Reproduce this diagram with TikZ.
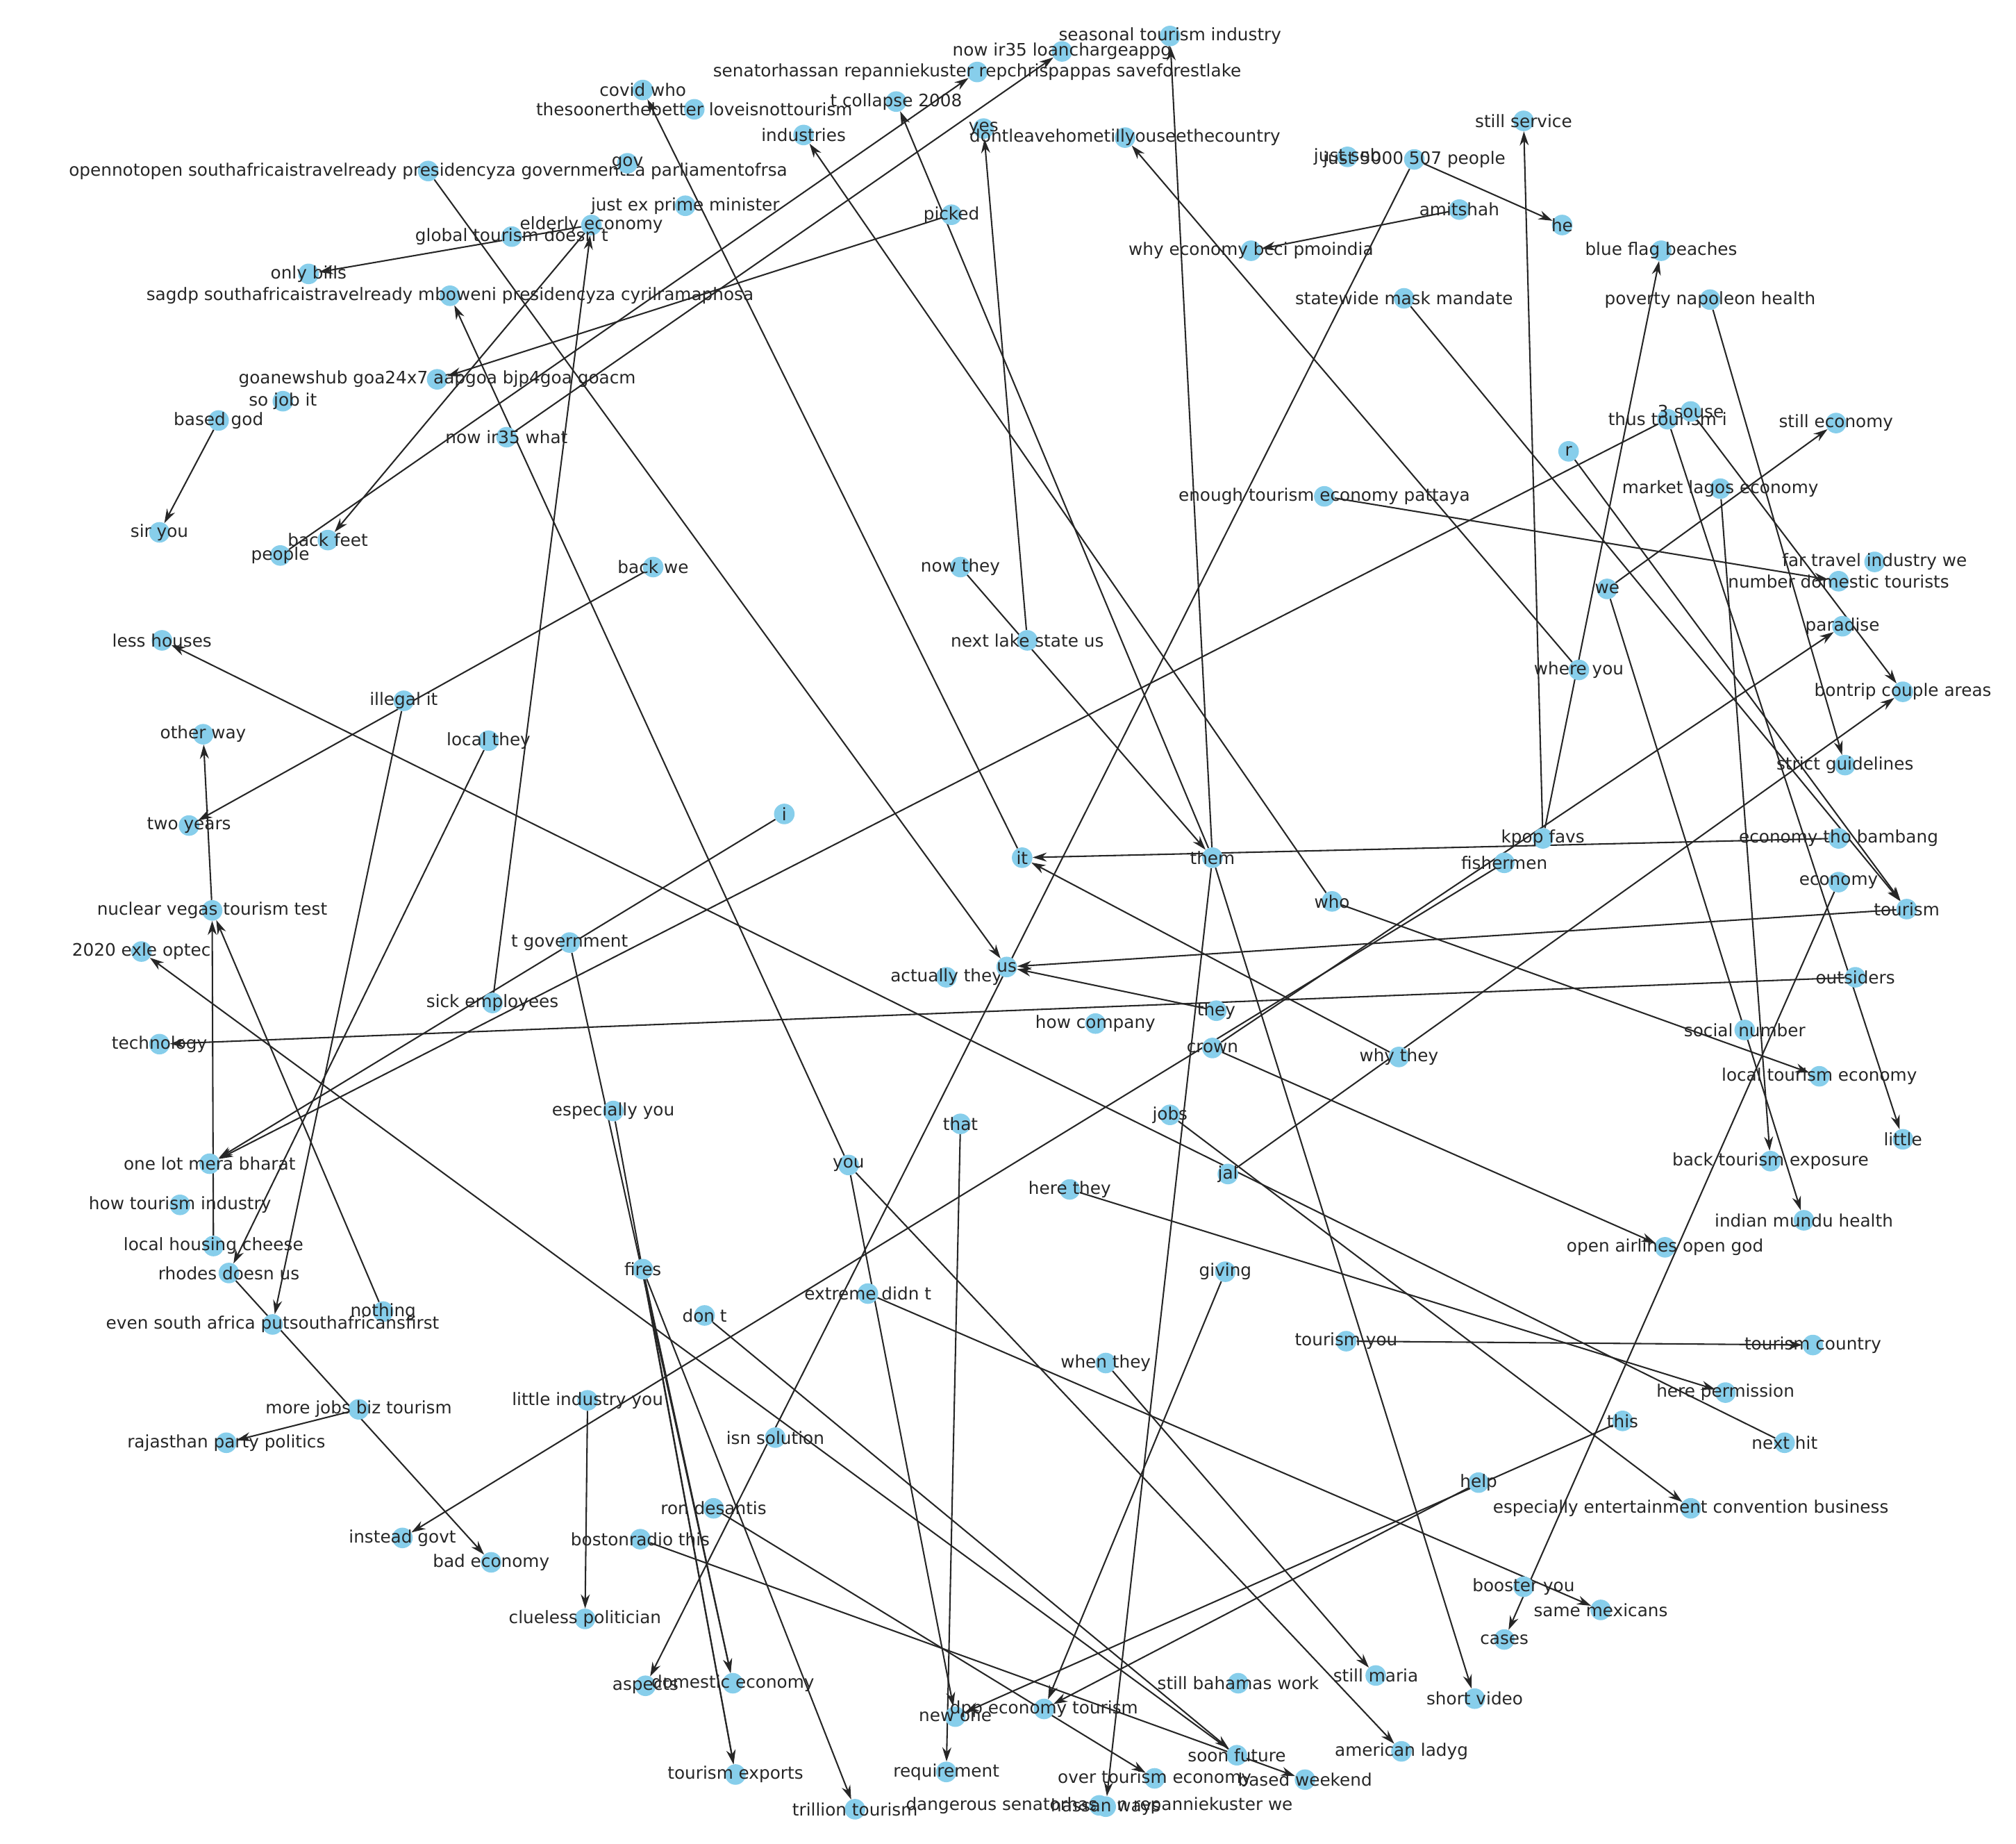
\documentclass[tikz,border=0pt]{standalone}
\usepackage{fontspec}
\setmainfont{DejaVu Sans}
\usetikzlibrary{arrows.meta,backgrounds}
\definecolor{sky}{RGB}{135,206,235}
\tikzset{dot/.style={circle,fill=sky,inner sep=0pt,minimum size=0.8cm},
lbl/.style={font=\fontsize{19}{19}\selectfont,inner sep=0pt,text=black!85},
e/.style={draw=black!85,line width=1.6pt,-{Stealth[length=0.55cm,width=0.35cm]}}}
\newcommand\nn[4]{\node[dot] (#1) at (#2*0.05,-#3*0.05) {}; \node[lbl] at (#1) {#4};}
\begin{document}
\begin{tikzpicture}
\useasboundingbox (0,0) rectangle (1568*0.05,-1434*0.05);
\nn{seas}{910}{28}{seasonal tourism industry}
\nn{loan}{826}{40}{now ir35 loanchargeappg}
\nn{sen}{760}{56}{senatorhassan repanniekuster repchrispappas saveforestlake}
\nn{covid}{500}{70}{covid  who}
\nn{soon}{540}{85}{thesoonerthebetter loveisnottourism}
\nn{tcol}{697}{79}{t collapse 2008}
\nn{yes}{765}{100}{yes}
\nn{dont}{875}{107}{dontleavehometillyouseethecountry}
\nn{ind}{625}{105}{industries}
\nn{open}{333}{133}{opennotopen southafricaistravelready presidencyza governmentza parliamentofrsa}
\nn{gov}{488}{127}{gov}
\nn{just}{533}{160}{just ex prime minister}
\nn{eld}{460}{175}{elderly  economy}
\nn{glob}{398}{184}{global tourism doesn t}
\nn{pick}{740}{167}{picked}
\nn{only}{240}{213}{only  bills}
\nn{sagdp}{350}{230}{sagdp southafricaistravelready mboweni presidencyza cyrilramaphosa}
\nn{goa}{340}{295}{goanewshub goa24x7 aapgoa bjp4goa goacm}
\nn{sojob}{220}{312}{so job it}
\nn{based}{170}{327}{based  god}
\nn{irw}{394}{340}{now ir35  what}
\nn{sir}{124}{414}{sir  you}
\nn{bfeet}{255}{420}{back  feet}
\nn{people}{218}{432}{people}
\nn{bwe}{508}{441}{back  we}
\nn{nowthey}{747}{441}{now  they}
\nn{lake}{799}{498}{next lake state us}
\nn{less}{126}{498}{less  houses}
\nn{ill}{314}{545}{illegal  it}
\nn{localthey}{380}{576}{local  they}
\nn{other}{158}{571}{other  way}
\nn{two}{147}{642}{two  years}
\nn{i}{610}{633}{i}
\nn{it}{795}{667}{it}
\nn{them}{943}{667}{them}
\nn{nuc}{165}{708}{nuclear vegas tourism test}
\nn{exle}{110}{740}{2020 exle optec}
\nn{tgov}{443}{733}{t government}
\nn{sick}{383}{780}{sick  employees}
\nn{act}{736}{760}{actually  they}
\nn{us}{783}{752}{us}
\nn{they}{946}{786}{they}
\nn{how}{852}{796}{how  company}
\nn{crown}{943}{815}{crown}
\nn{tech}{124}{812}{technology}
\nn{who}{1036}{701}{who}
\nn{why}{1088}{822}{why  they}
\nn{espy}{477}{864}{especially  you}
\nn{that}{747}{874}{that}
\nn{jobs}{910}{867}{jobs}
\nn{you}{660}{906}{you}
\nn{mera}{163}{905}{one lot mera bharat}
\nn{jal}{955}{913}{jal}
\nn{here}{832}{925}{here  they}
\nn{htour}{140}{937}{how tourism industry}
\nn{lhc}{166}{969}{local housing cheese}
\nn{rhodes}{178}{990}{rhodes doesn us}
\nn{fires}{500}{987}{fires}
\nn{giving}{953}{989}{giving}
\nn{nothing}{298}{1020}{nothing}
\nn{even}{212}{1030}{even south africa putsouthafricansfirst}
\nn{ext}{675}{1006}{extreme didn t}
\nn{dont2}{548}{1023}{don t}
\nn{when}{860}{1060}{when  they}
\nn{tyou}{1047}{1043}{tourism  you}
\nn{more}{279}{1096}{more jobs biz tourism}
\nn{little}{457}{1089}{little industry you}
\nn{raj}{176}{1122}{rajasthan party politics}
\nn{isn}{603}{1118}{isn  solution}
\nn{ron}{555}{1173}{ron desantis}
\nn{instead}{313}{1196}{instead  govt}
\nn{boston}{498}{1197}{bostonradio  this}
\nn{bad}{382}{1215}{bad  economy}
\nn{clue}{455}{1259}{clueless  politician}
\nn{asp}{502}{1311}{aspects}
\nn{dom}{570}{1309}{domestic  economy}
\nn{newone}{743}{1335}{new one}
\nn{dpp}{812}{1329}{dpp economy tourism}
\nn{texp}{572}{1380}{tourism exports}
\nn{req}{736}{1378}{requirement}
\nn{tril}{665}{1407}{trillion tourism}
\nn{dang}{855}{1404}{dangerous senatorhassan repanniekuster we}
\nn{over}{898}{1383}{over tourism economy}
\nn{sfut}{962}{1365}{soon  future}
\nn{bweek}{1015}{1384}{based  weekend}
\nn{amer}{1090}{1362}{american  ladyg}
\nn{bah}{963}{1309}{still bahamas work}
\nn{maria}{1070}{1303}{still  maria}
\nn{short}{1147}{1321}{short  video}
\nn{hassan}{860}{1405}{hassan ways}
\nn{cases}{1170}{1275}{cases}
\nn{boost}{1185}{1234}{booster you}
\nn{same}{1245}{1252}{same  mexicans}
\nn{help}{1150}{1153}{help}
\nn{espe}{1315}{1173}{especially entertainment convention business}
\nn{this}{1262}{1105}{this}
\nn{nhit}{1388}{1122}{next  hit}
\nn{perm}{1342}{1083}{here  permission}
\nn{tcoun}{1410}{1046}{tourism  country}
\nn{air}{1295}{970}{open airlines open god}
\nn{indian}{1403}{949}{indian mundu health}
\nn{bte}{1377}{903}{back tourism exposure}
\nn{lit}{1480}{886}{little}
\nn{lte}{1415}{837}{local tourism economy}
\nn{social}{1357}{801}{social  number}
\nn{outs}{1443}{760}{outsiders}
\nn{tour}{1483}{707}{tourism}
\nn{econ}{1430}{686}{economy}
\nn{tho}{1430}{652}{economy tho bambang}
\nn{kpop}{1200}{652}{kpop  favs}
\nn{fish}{1170}{671}{fishermen}
\nn{strict}{1435}{595}{strict  guidelines}
\nn{bont}{1480}{538}{bontrip couple areas}
\nn{para}{1433}{487}{paradise}
\nn{where}{1228}{521}{where  you}
\nn{numd}{1430}{452}{number domestic tourists}
\nn{far}{1458}{437}{far travel industry we}
\nn{we}{1250}{458}{we}
\nn{lagos}{1338}{380}{market lagos economy}
\nn{enough}{1030}{386}{enough tourism economy pattaya}
\nn{r}{1220}{351}{r}
\nn{thus}{1297}{326}{thus tourism i}
\nn{souse}{1315}{320}{3  souse}
\nn{stillecon}{1428}{329}{still  economy}
\nn{pov}{1330}{233}{poverty  napoleon health}
\nn{mask}{1092}{232}{statewide mask mandate}
\nn{blue}{1292}{195}{blue flag beaches}
\nn{bcci}{973}{195}{why economy bcci pmoindia}
\nn{amit}{1135}{163}{amitshah}
\nn{he}{1215}{175}{he}
\nn{sob}{1048}{122}{just sob}
\nn{five}{1100}{124}{just 5000 507 people}
\nn{serv}{1185}{94}{still  service}
\begin{pgfonlayer}{background}
\draw[e] (based)--(sir);
\draw[e] (people)--(sen);
\draw[e] (eld)--(bfeet);
\draw[e] (pick)--(goa);
\draw[e] (irw)--(loan);
\draw[e] (eld)--(only);
\draw[e] (sick)--(eld);
\draw[e] (tgov)--(dom);
\draw[e] (bwe)--(two);
\draw[e] (ill)--(even);
\draw[e] (localthey)--(rhodes);
\draw[e] (nuc)--(other);
\draw[e] (nothing)--(nuc);
\draw[e] (lhc)--(nuc);
\draw[e] (i)--(mera);
\draw[e] (thus)--(mera);
\draw[e] (sfut)--(exle);
\draw[e] (nhit)--(less);
\draw[e] (outs)--(tech);
\draw[e] (rhodes)--(bad);
\draw[e] (more)--(raj);
\draw[e] (little)--(clue);
\draw[e] (fish)--(instead);
\draw[e] (five)--(asp);
\draw[e] (fires)--(texp);
\draw[e] (fires)--(dom);
\draw[e] (fires)--(tril);
\draw[e] (espy)--(texp);
\draw[e] (that)--(req);
\draw[e] (you)--(newone);
\draw[e] (you)--(amer);
\draw[e] (ext)--(same);
\draw[e] (dont2)--(sfut);
\draw[e] (ron)--(over);
\draw[e] (boston)--(bweek);
\draw[e] (when)--(maria);
\draw[e] (giving)--(dpp);
\draw[e] (tyou)--(tcoun);
\draw[e] (help)--(dpp);
\draw[e] (this)--(newone);
\draw[e] (jal)--(bont);
\draw[e] (crown)--(air);
\draw[e] (jobs)--(espe);
\draw[e] (here)--(perm);
\draw[e] (them)--(seas);
\draw[e] (them)--(hassan);
\draw[e] (them)--(short);
\draw[e] (lake)--(yes);
\draw[e] (nowthey)--(them);
\draw[e] (tho)--(it);
\draw[e] (why)--(it);
\draw[e] (they)--(us);
\draw[e] (who)--(ind);
\draw[e] (who)--(lte);
\draw[e] (it)--(covid);
\draw[e] (them)--(tcol);
\draw[e] (where)--(dont);
\draw[e] (kpop)--(blue);
\draw[e] (kpop)--(serv);
\draw[e] (we)--(stillecon);
\draw[e] (we)--(indian);
\draw[e] (r)--(tour);
\draw[e] (souse)--(bont);
\draw[e] (pov)--(strict);
\draw[e] (mask)--(tour);
\draw[e] (enough)--(numd);
\draw[e] (lagos)--(bte);
\draw[e] (amit)--(bcci);
\draw[e] (five)--(he);
\draw[e] (tour)--(us);
\draw[e] (econ)--(cases);
\draw[e] (crown)--(para);
\draw[e] (thus)--(lit);
\draw[e] (open)--(us);
\draw[e] (you)--(sagdp);
\end{pgfonlayer}
\end{tikzpicture}
\end{document}
